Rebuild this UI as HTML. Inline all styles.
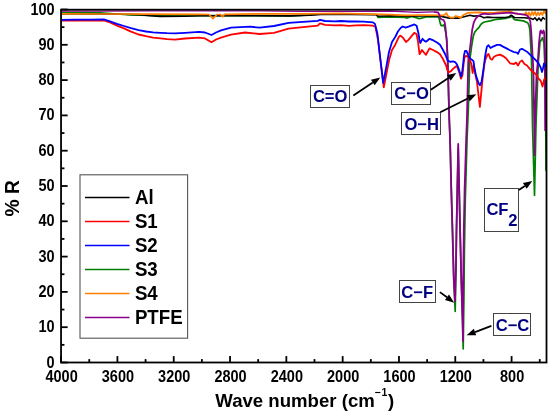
<!DOCTYPE html>
<html><head><meta charset="utf-8"><style>
html,body{margin:0;padding:0;background:#fff;}
svg{display:block;}
text{font-family:"Liberation Sans",Arial,sans-serif;font-weight:bold;}
</style></head><body>
<svg width="550" height="413" viewBox="0 0 550 413">
<rect width="550" height="413" fill="#fff"/>
<g>
<polyline points="61.0,12.5 80.0,12.6 100.0,12.8 117.0,14.0 130.0,15.0 160.0,15.6 200.0,15.6 250.0,15.6 290.0,15.8 310.0,14.8 321.0,13.9 350.0,14.0 376.7,14.5 378.0,17.4 390.0,16.8 405.3,17.5 406.4,18.1 411.8,16.5 419.4,18.6 426.0,17.0 436.9,16.8 438.9,17.6 439.8,21.5 440.8,25.3 441.8,25.8 443.7,24.9 444.7,27.3 445.4,31.0 446.0,34.0 446.7,40.0 447.7,60.0 449.3,120.0 450.0,138.0 451.3,190.0 452.6,235.0 453.8,280.0 455.2,311.5 455.9,270.0 456.5,230.0 457.3,190.0 458.2,148.0 459.2,190.0 460.1,230.0 461.3,280.0 462.6,320.0 463.2,349.0 463.9,300.0 464.4,250.0 465.3,200.0 467.1,138.0 468.3,110.0 469.8,60.0 471.8,45.0 473.3,36.0 474.7,32.1 476.7,29.7 479.1,27.3 480.5,24.9 482.5,22.9 484.4,22.0 490.2,20.9 496.5,19.3 505.5,18.4 510.5,17.1 511.8,16.2 514.4,19.6 523.3,20.9 527.7,22.8 529.0,25.4 529.9,30.0 531.5,60.0 532.5,125.0 534.5,195.5 536.0,125.0 537.8,75.0 538.5,60.0 540.0,42.0 542.6,37.7 544.0,43.2 545.5,80.0 546.0,171.0" fill="none" stroke="#008000" stroke-width="1.7" stroke-linejoin="round"/>
<polyline points="61.0,13.9 100.0,14.0 125.0,14.3 140.0,14.6 150.0,15.8 160.0,16.4 185.0,16.2 200.0,15.8 225.0,15.7 250.0,15.7 290.0,15.9 310.0,15.2 321.0,14.4 350.0,14.4 376.0,14.8 378.0,16.2 390.0,15.8 405.3,16.2 422.7,15.9 436.9,16.0 441.3,16.5 444.7,17.1 449.5,18.1 459.2,18.1 465.0,16.6 469.9,15.2 473.8,16.1 478.6,15.7 481.5,16.6 483.8,17.7 487.6,17.1 492.7,17.5 505.5,17.5 509.3,16.7 511.2,15.2 514.4,17.5 524.5,17.7 530.9,18.4 533.0,19.5 535.0,17.8 537.0,20.5 539.0,18.0 541.0,20.8 543.0,17.5 545.0,19.5" fill="none" stroke="#000000" stroke-width="1.6" stroke-linejoin="round"/>
<polyline points="61.0,13.9 100.0,14.0 150.0,14.2 200.0,14.3 209.0,14.5 213.0,18.6 217.0,14.5 220.5,14.5 222.5,16.8 224.5,14.3 260.0,13.9 300.0,13.9 340.0,13.4 390.0,14.6 406.4,15.4 422.7,15.0 442.3,15.4 444.7,14.7 446.4,13.0 447.6,15.7 450.5,17.6 453.4,17.6 455.3,16.1 458.3,16.6 460.7,17.6 463.1,15.2 467.0,13.2 470.9,12.6 479.6,12.3 483.4,12.8 495.0,12.5 510.5,11.4 514.4,13.3 524.5,14.5 526.0,12.2 527.5,15.5 529.0,12.5 530.5,15.8 532.0,12.0 533.5,15.0 535.0,11.8 536.5,15.6 538.0,12.3 539.5,15.2 541.0,12.5 542.5,15.0 544.3,10.0 545.5,14.0" fill="none" stroke="#ff8000" stroke-width="1.7" stroke-linejoin="round"/>
<polyline points="61.0,11.2 100.0,11.1 150.0,10.9 200.0,10.9 260.0,10.8 300.0,11.4 350.0,11.3 390.0,11.0 406.4,11.8 417.3,12.4 433.6,11.8" fill="none" stroke="#8b008b" stroke-width="1.3" stroke-linejoin="round"/>
<polyline points="433.6,11.8 437.9,12.3 439.4,14.7 440.3,18.6 441.8,19.5 443.7,20.0 444.7,22.4 445.5,28.0 446.0,33.0 446.7,40.0 447.7,60.0 449.3,120.0 450.0,138.0 451.3,190.0 452.6,235.0 453.8,280.0 455.0,301.0 455.9,270.0 456.5,230.0 457.3,190.0 458.2,144.0 459.2,190.0 460.1,230.0 461.3,280.0 462.5,320.0 463.0,341.0 463.2,280.0 463.8,230.0 464.6,190.0 466.2,138.0 466.9,120.0 468.3,60.0 470.4,45.0 471.3,37.0 472.3,29.2 473.8,22.4 475.7,18.6 478.6,15.7 481.5,14.2 484.4,13.7 487.6,14.2 492.7,13.9 499.1,13.3 510.5,12.6 518.2,13.9 525.8,14.9 528.4,16.5 530.3,21.5 531.1,30.0 532.9,61.4 533.5,75.0 534.3,130.0 534.5,155.0 534.8,130.0 536.5,75.0 537.8,62.0 539.0,43.2 540.2,31.5 540.9,30.5 542.2,33.5 543.5,30.5 544.2,32.5 544.8,50.0 545.2,131.0" fill="none" stroke="#8b008b" stroke-width="1.8" stroke-linejoin="round"/>
<polyline points="61.0,20.7 104.5,20.6 110.0,22.4 117.0,25.6 124.0,28.4 131.0,31.6 138.6,34.5 146.0,36.2 153.0,37.6 160.5,38.4 167.0,39.1 175.0,39.6 185.0,38.5 199.0,37.6 205.0,38.4 211.5,42.3 216.0,39.5 221.0,37.6 231.0,34.7 245.0,32.5 259.5,34.0 274.0,32.8 288.6,28.6 303.0,27.2 317.7,25.7 320.0,23.4 325.0,24.8 334.5,25.3 341.0,25.2 349.0,25.9 356.0,25.4 363.6,25.2 373.0,25.7 375.5,27.0 378.0,40.0 381.0,65.0 383.8,87.3 386.0,76.0 389.0,60.6 392.0,50.0 395.0,45.2 399.0,36.7 400.5,35.6 403.0,37.7 406.0,42.0 408.5,39.9 414.2,32.9 416.5,34.0 418.0,41.5 419.5,54.2 422.0,50.0 424.5,53.2 426.0,54.8 429.5,48.4 433.0,50.0 437.0,52.1 440.0,54.2 443.0,59.0 446.3,66.0 447.0,69.4 449.0,72.2 451.0,71.1 453.0,68.9 455.5,66.7 457.0,66.2 459.0,71.6 461.0,78.7 462.5,74.9 463.5,65.0 464.5,57.4 466.0,55.8 468.0,56.9 470.0,60.7 471.4,63.7 472.6,73.0 473.8,65.4 475.2,73.9 476.9,81.5 478.6,95.9 479.9,107.0 481.1,94.2 482.8,76.4 484.5,63.7 485.3,60.0 486.0,58.2 487.5,54.6 488.5,53.9 490.5,59.0 492.0,59.7 494.0,56.8 497.0,55.3 500.0,54.6 503.0,56.1 506.0,58.2 510.0,63.3 514.0,64.0 516.0,62.6 518.0,65.5 520.0,61.9 522.0,60.4 524.5,64.0 527.0,65.5 530.0,69.1 533.0,72.0 536.0,74.2 538.5,78.6 540.0,80.0 541.0,81.5 542.5,86.6 544.0,80.0 545.0,77.8 546.0,80.0" fill="none" stroke="#ff0000" stroke-width="1.8" stroke-linejoin="round"/>
<polyline points="61.0,19.8 75.0,19.6 90.0,19.7 104.5,19.5 110.0,21.4 117.0,23.8 124.0,26.0 131.0,28.2 138.6,30.2 146.0,31.5 153.0,32.3 160.5,32.8 167.0,33.2 175.0,33.3 185.0,32.8 199.0,31.8 205.0,32.5 211.5,35.0 216.0,32.5 221.0,30.4 231.0,27.7 250.0,26.7 259.5,27.6 274.0,26.0 288.6,22.8 303.0,21.9 317.7,20.9 320.0,19.9 325.0,21.0 334.5,21.3 341.0,21.0 349.0,21.5 356.0,21.3 363.6,21.7 373.0,22.4 375.0,24.0 377.4,33.5 380.3,58.7 383.2,82.9 386.0,68.4 389.0,52.0 392.0,42.0 395.5,36.5 397.9,31.5 400.6,28.0 402.7,26.5 405.6,27.6 408.5,26.7 414.4,24.4 416.6,25.8 418.4,33.0 419.5,40.0 420.3,43.0 422.5,38.8 424.5,40.9 426.0,41.7 429.5,38.8 433.5,40.4 437.0,42.5 440.0,44.7 443.0,50.0 445.3,54.5 447.5,60.2 450.0,61.8 453.0,61.3 455.5,62.4 457.0,64.5 458.5,68.4 460.0,72.7 461.1,76.5 462.0,73.0 463.0,65.0 464.0,55.3 465.0,51.0 466.5,50.9 468.0,54.7 470.0,58.5 472.6,60.3 473.5,61.2 474.3,67.1 476.0,75.6 478.6,83.2 479.9,85.4 481.6,81.5 483.3,70.5 485.0,57.0 486.2,50.0 487.0,46.6 488.5,45.2 490.5,48.1 493.0,46.6 497.0,44.9 500.0,44.9 503.0,46.6 506.0,48.1 510.0,50.3 514.0,52.1 517.0,52.7 518.0,53.9 520.0,49.5 522.0,48.8 524.5,50.3 527.0,51.7 530.0,54.6 533.0,57.5 536.0,60.4 538.5,63.3 540.0,66.2 541.0,68.4 542.0,72.0 543.0,68.4 544.0,63.3 545.0,66.2 546.0,64.0" fill="none" stroke="#0000ff" stroke-width="1.8" stroke-linejoin="round"/>
</g>
<g stroke="#000" stroke-width="1.8">
<line x1="61.05" y1="362.50" x2="67.64999999999999" y2="362.50"/><line x1="61.05" y1="344.85" x2="64.45" y2="344.85"/><line x1="61.05" y1="327.20" x2="67.64999999999999" y2="327.20"/><line x1="61.05" y1="309.55" x2="64.45" y2="309.55"/><line x1="61.05" y1="291.90" x2="67.64999999999999" y2="291.90"/><line x1="61.05" y1="274.25" x2="64.45" y2="274.25"/><line x1="61.05" y1="256.60" x2="67.64999999999999" y2="256.60"/><line x1="61.05" y1="238.95" x2="64.45" y2="238.95"/><line x1="61.05" y1="221.30" x2="67.64999999999999" y2="221.30"/><line x1="61.05" y1="203.65" x2="64.45" y2="203.65"/><line x1="61.05" y1="186.00" x2="67.64999999999999" y2="186.00"/><line x1="61.05" y1="168.35" x2="64.45" y2="168.35"/><line x1="61.05" y1="150.70" x2="67.64999999999999" y2="150.70"/><line x1="61.05" y1="133.05" x2="64.45" y2="133.05"/><line x1="61.05" y1="115.40" x2="67.64999999999999" y2="115.40"/><line x1="61.05" y1="97.75" x2="64.45" y2="97.75"/><line x1="61.05" y1="80.10" x2="67.64999999999999" y2="80.10"/><line x1="61.05" y1="62.45" x2="64.45" y2="62.45"/><line x1="61.05" y1="44.80" x2="67.64999999999999" y2="44.80"/><line x1="61.05" y1="27.15" x2="64.45" y2="27.15"/><line x1="61.05" y1="9.50" x2="67.64999999999999" y2="9.50"/><line x1="61.10" y1="362.5" x2="61.10" y2="356.1"/><line x1="89.26" y1="362.5" x2="89.26" y2="359.1"/><line x1="117.41" y1="362.5" x2="117.41" y2="356.1"/><line x1="145.57" y1="362.5" x2="145.57" y2="359.1"/><line x1="173.72" y1="362.5" x2="173.72" y2="356.1"/><line x1="201.88" y1="362.5" x2="201.88" y2="359.1"/><line x1="230.04" y1="362.5" x2="230.04" y2="356.1"/><line x1="258.19" y1="362.5" x2="258.19" y2="359.1"/><line x1="286.35" y1="362.5" x2="286.35" y2="356.1"/><line x1="314.50" y1="362.5" x2="314.50" y2="359.1"/><line x1="342.66" y1="362.5" x2="342.66" y2="356.1"/><line x1="370.82" y1="362.5" x2="370.82" y2="359.1"/><line x1="398.97" y1="362.5" x2="398.97" y2="356.1"/><line x1="427.13" y1="362.5" x2="427.13" y2="359.1"/><line x1="455.28" y1="362.5" x2="455.28" y2="356.1"/><line x1="483.44" y1="362.5" x2="483.44" y2="359.1"/><line x1="511.60" y1="362.5" x2="511.60" y2="356.1"/><line x1="539.75" y1="362.5" x2="539.75" y2="359.1"/>
</g>
<rect x="61.05" y="9.7" width="485.45" height="352.80" fill="none" stroke="#000" stroke-width="1.8"/>
<g font-size="14.5" fill="#000">
<text transform="translate(54.6,367.50) scale(1,1.08)" text-anchor="end">0</text><text transform="translate(54.6,332.20) scale(1,1.08)" text-anchor="end">10</text><text transform="translate(54.6,296.90) scale(1,1.08)" text-anchor="end">20</text><text transform="translate(54.6,261.60) scale(1,1.08)" text-anchor="end">30</text><text transform="translate(54.6,226.30) scale(1,1.08)" text-anchor="end">40</text><text transform="translate(54.6,191.00) scale(1,1.08)" text-anchor="end">50</text><text transform="translate(54.6,155.70) scale(1,1.08)" text-anchor="end">60</text><text transform="translate(54.6,120.40) scale(1,1.08)" text-anchor="end">70</text><text transform="translate(54.6,85.10) scale(1,1.08)" text-anchor="end">80</text><text transform="translate(54.6,49.80) scale(1,1.08)" text-anchor="end">90</text><text transform="translate(54.6,14.50) scale(1,1.08)" text-anchor="end">100</text>
<text transform="translate(61.60,381.8) scale(1,1.08)" text-anchor="middle">4000</text><text transform="translate(117.91,381.8) scale(1,1.08)" text-anchor="middle">3600</text><text transform="translate(174.22,381.8) scale(1,1.08)" text-anchor="middle">3200</text><text transform="translate(230.54,381.8) scale(1,1.08)" text-anchor="middle">2800</text><text transform="translate(286.85,381.8) scale(1,1.08)" text-anchor="middle">2400</text><text transform="translate(343.16,381.8) scale(1,1.08)" text-anchor="middle">2000</text><text transform="translate(399.47,381.8) scale(1,1.08)" text-anchor="middle">1600</text><text transform="translate(455.78,381.8) scale(1,1.08)" text-anchor="middle">1200</text><text transform="translate(512.10,381.8) scale(1,1.08)" text-anchor="middle">800</text>
</g>
<g fill="#000"><rect x="80" y="174.8" width="107.6" height="163.4" fill="#fff" stroke="#555" stroke-width="1.1"/><line x1="85" y1="197.5" x2="129.5" y2="197.5" stroke="#000000" stroke-width="1.6"/><text transform="translate(134.9,203.7) scale(1,1.06)" font-size="18.7">Al</text><line x1="85" y1="221.5" x2="129.5" y2="221.5" stroke="#ff0000" stroke-width="1.6"/><text transform="translate(134.9,227.7) scale(1,1.06)" font-size="18.7">S1</text><line x1="85" y1="245.5" x2="129.5" y2="245.5" stroke="#0000ff" stroke-width="1.6"/><text transform="translate(134.9,251.7) scale(1,1.06)" font-size="18.7">S2</text><line x1="85" y1="269.5" x2="129.5" y2="269.5" stroke="#008000" stroke-width="1.6"/><text transform="translate(134.9,275.7) scale(1,1.06)" font-size="18.7">S3</text><line x1="85" y1="293.5" x2="129.5" y2="293.5" stroke="#ff8000" stroke-width="1.6"/><text transform="translate(134.9,299.7) scale(1,1.06)" font-size="18.7">S4</text><line x1="85" y1="317.5" x2="129.5" y2="317.5" stroke="#8b008b" stroke-width="1.6"/><text transform="translate(134.9,323.7) scale(1,1.06)" font-size="18.7">PTFE</text></g>
<g font-size="16.6" fill="#000080"><rect x="310.5" y="85.5" width="39.0" height="22.0" fill="#fff" stroke="#444" stroke-width="1"/><text x="330.2" y="102.0" text-anchor="middle">C=O</text><line x1="353.3" y1="95.4" x2="372.80" y2="82.47" stroke="#000" stroke-width="1.8"/><polygon points="380.3,77.5 374.68,85.31 370.92,79.64" fill="#000"/><rect x="391.5" y="82.5" width="39.0" height="22.0" fill="#fff" stroke="#444" stroke-width="1"/><text x="411.6" y="99.3" text-anchor="middle">C&#8722;O</text><line x1="430.8" y1="89.8" x2="448.80" y2="77.87" stroke="#000" stroke-width="1.8"/><polygon points="456.3,72.9 450.68,80.71 446.92,75.04" fill="#000"/><rect x="401.5" y="112.5" width="39.0" height="22.0" fill="#fff" stroke="#444" stroke-width="1"/><text x="421.7" y="129.7" text-anchor="middle">O&#8722;H</text><line x1="440.3" y1="112.2" x2="468.25" y2="98.22" stroke="#000" stroke-width="1.8"/><polygon points="476.3,94.2 469.77,101.27 466.73,95.18" fill="#000"/><rect x="399.5" y="280.5" width="36.0" height="22.0" fill="#fff" stroke="#444" stroke-width="1"/><text x="417.2" y="297.5" text-anchor="middle">C&#8722;F</text><line x1="439.9" y1="292.1" x2="446.97" y2="297.34" stroke="#000" stroke-width="1.8"/><polygon points="454.2,302.7 444.95,300.07 448.99,294.61" fill="#000"/><rect x="493.5" y="313.5" width="37.0" height="22.0" fill="#fff" stroke="#444" stroke-width="1"/><text x="512.5" y="330.7" text-anchor="middle">C&#8722;C</text><line x1="491.4" y1="325.9" x2="475.03" y2="332.04" stroke="#000" stroke-width="1.8"/><polygon points="466.6,335.2 473.83,328.86 476.22,335.22" fill="#000"/><rect x="484.5" y="188.5" width="34.0" height="43.0" fill="#fff" stroke="#444" stroke-width="1"/><text x="486.4" y="215.2">CF<tspan dx="-0.2" dy="10.4">2</tspan></text><line x1="518.8" y1="189.9" x2="524.79" y2="185.95" stroke="#000" stroke-width="1.8"/><polygon points="532.3,181 526.66,188.79 522.91,183.12" fill="#000"/></g>
<text transform="translate(19.1,198.4) rotate(-90) scale(0.99,1)" text-anchor="middle" font-size="19.5" fill="#000">% R</text>
<text x="215.3" y="406.8" font-size="18.6" fill="#000">Wave number (cm<tspan font-size="10.5" dx="-0.2" dy="-10.6">&#8722;</tspan><tspan font-size="10.5" dx="0.8">1</tspan><tspan dx="0.7" dy="10.6">)</tspan></text>
</svg>
</body></html>
